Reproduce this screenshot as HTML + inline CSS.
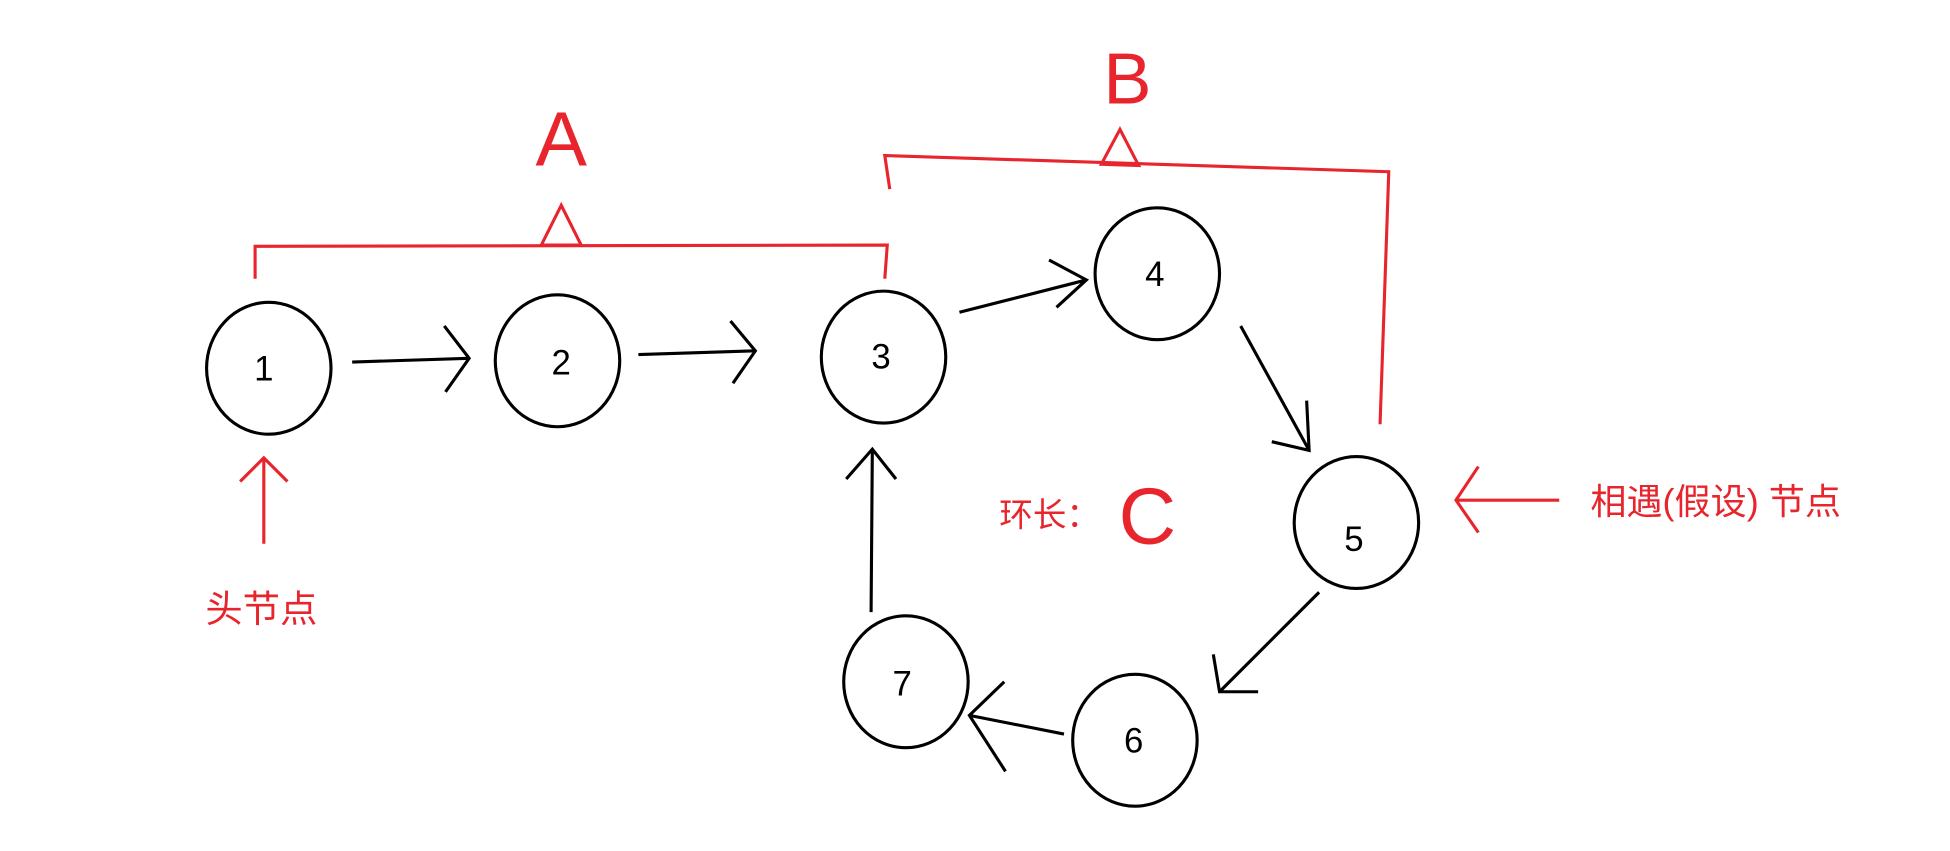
<!DOCTYPE html>
<html><head><meta charset="utf-8"><style>html,body{margin:0;padding:0;background:#fff;overflow:hidden}svg{display:block}</style></head>
<body>
<svg width="1950" height="851" viewBox="0 0 1567 684" preserveAspectRatio="none" xmlns="http://www.w3.org/2000/svg">
<g fill="none" stroke="#000" stroke-width="2.5">
<ellipse cx="216" cy="296" rx="50" ry="53"/>
<ellipse cx="448" cy="290" rx="50" ry="53"/>
<ellipse cx="710" cy="287" rx="50" ry="53"/>
<ellipse cx="930" cy="220" rx="50" ry="53"/>
<ellipse cx="1090" cy="420" rx="50" ry="53"/>
<ellipse cx="912" cy="595" rx="50" ry="53"/>
<ellipse cx="728" cy="548" rx="50" ry="53"/>
<path d="M283 291L377 288M357 262L377 288L358 315"/>
<path d="M513 285L607 282M587 258L607 282L589 308"/>
<path d="M771 251L873 225M843 209L873 225L849 247"/>
<path d="M997 262L1052 362M1022 355L1052 362L1050 322"/>
<path d="M1060 476L980 556M975 526L980 556L1011 556"/>
<path d="M855 590L779 575M807 548L779 575L808 620"/>
<path d="M700 492L701 361M680 385L701 361L720 385"/>
</g>
<g font-family="Liberation Sans, sans-serif" font-size="28" text-anchor="middle">
<text x="212" y="306">1</text><text x="451" y="301">2</text><text x="708" y="296">3</text>
<text x="928" y="230">4</text><text x="1088" y="443">5</text><text x="911" y="605">6</text><text x="725" y="559">7</text>
</g>
<g fill="none" stroke="#e8242c" stroke-width="2.5">
<path d="M205 224L205 198L713 197L711 224"/>
<path d="M451 165L435 197L467 197Z"/>
<path d="M715 152L711 125L1116 138L1109 341"/>
<path d="M900 104L885 132L915 133Z"/>
<path d="M212 437L212 368M193 387L212 368L231 387"/>
<path d="M1253 402L1170 402M1188 375L1170 402L1188 428"/>
</g>
<g fill="#e8242c" font-family="Liberation Sans, 'Noto Sans CJK SC', sans-serif">
<text x="451" y="133" font-size="62" text-anchor="middle">A</text>
<text x="906" y="83" font-size="58" text-anchor="middle">B</text>
<text x="922" y="437" font-size="64" text-anchor="middle">C</text>
<text x="210" y="500" font-size="30" text-anchor="middle">头节点</text>
<text x="803" y="423" font-size="27">环长：</text>
<text x="1278" y="413" font-size="29">相遇(假设) 节点</text>
</g>
</svg>
</body></html>
